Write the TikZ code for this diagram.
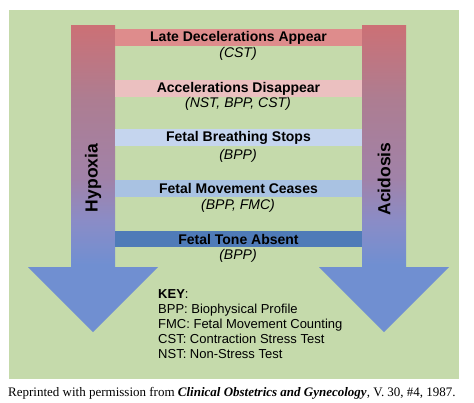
\documentclass[tikz,border=0pt]{standalone}
\usepackage{fontspec}
\setmainfont{Liberation Sans}
\newfontfamily\capfont{Liberation Serif}
\definecolor{bggreen}{RGB}{197,218,171}
\definecolor{barA}{RGB}{222,140,140}
\definecolor{barB}{RGB}{235,192,192}
\definecolor{barC}{RGB}{197,213,238}
\definecolor{barD}{RGB}{169,194,226}
\definecolor{barE}{RGB}{79,123,184}
\pgfdeclareverticalshading{arrowshade}{100bp}{
 rgb(0bp)=(0.44,0.56,0.82);
 rgb(25bp)=(0.44,0.56,0.82);
 rgb(36bp)=(0.44,0.56,0.82);
 rgb(43bp)=(0.54,0.55,0.78);
 rgb(50bp)=(0.63,0.51,0.66);
 rgb(63bp)=(0.68,0.49,0.57);
 rgb(75bp)=(0.80,0.44,0.46);
 rgb(100bp)=(0.80,0.44,0.46)}
\tikzset{
  bigarrow/.style={shading=arrowshade, draw=none},
  barbox/.style={minimum width=247pt, minimum height=16.5pt, inner sep=0pt,
    font=\fontsize{14}{16}\selectfont\bfseries, text=black},
  sublabel/.style={inner sep=0pt, font=\fontsize{14}{16}\selectfont\itshape},
  sidelabel/.style={inner sep=0pt, rotate=90, font=\fontsize{17.5}{20}\selectfont\bfseries},
  keyline/.style={anchor=base west, inner sep=0pt, font=\fontsize{13}{15}\selectfont},
}
\begin{document}
\begin{tikzpicture}[x=1pt,y=-1pt]
\useasboundingbox (0,0) rectangle (474,402);
\fill[white] (0,0) rectangle (474,402);
\fill[bggreen] (9,10) rectangle (459,379);
% arrows
\path[bigarrow] (71,25) -- (115,25) -- (115,267) -- (158,267) -- (93,332) -- (28,267) -- (71,267) -- cycle;
\path[bigarrow] (362,25) -- (406,25) -- (406,267) -- (449,267) -- (384,332) -- (319,267) -- (362,267) -- cycle;
\node[sidelabel] (hyp) at (93,178) {Hypoxia};
\node[sidelabel] (acid) at (384,179) {Acidosis};
% bars
\node[barbox, fill=barA] (late) at (238.5,37.5) {Late Decelerations Appear};
\node[sublabel] (lateS) at (238,53.5) {(CST)};
\node[barbox, fill=barB] (accel) at (238.5,88.5) {Accelerations Disappear};
\node[sublabel] (accelS) at (238,104) {(NST, BPP, CST)};
\node[barbox, fill=barC] (breath) at (238.5,137.5) {Fetal Breathing Stops};
\node[sublabel] (breathS) at (238,156) {(BPP)};
\node[barbox, fill=barD] (move) at (238.5,188.5) {Fetal Movement Ceases};
\node[sublabel] (moveS) at (238,206) {(BPP, FMC)};
\node[barbox, fill=barE] (tone) at (238.5,239) {Fetal Tone Absent};
\node[sublabel] (toneS) at (238,256) {(BPP)};
% key
\node[keyline] (k0) at (158,298.5) {\textbf{KEY}:};
\node[keyline] (k1) at (158,313.5) {BPP: Biophysical Profile};
\node[keyline] (k2) at (158,328.5) {FMC: Fetal Movement Counting};
\node[keyline] (k3) at (158,343.5) {CST: Contraction Stress Test};
\node[keyline] (k4) at (158,358.5) {NST: Non-Stress Test};
% caption
\node[anchor=base west, inner sep=0pt, font=\capfont\fontsize{13}{15}\selectfont] (cap) at (8,396.5)
  {Reprinted with permission from \textbf{\textit{Clinical Obstetrics and Gynecology}}, V. 30, \#4, 1987.};
\end{tikzpicture}
\end{document}
